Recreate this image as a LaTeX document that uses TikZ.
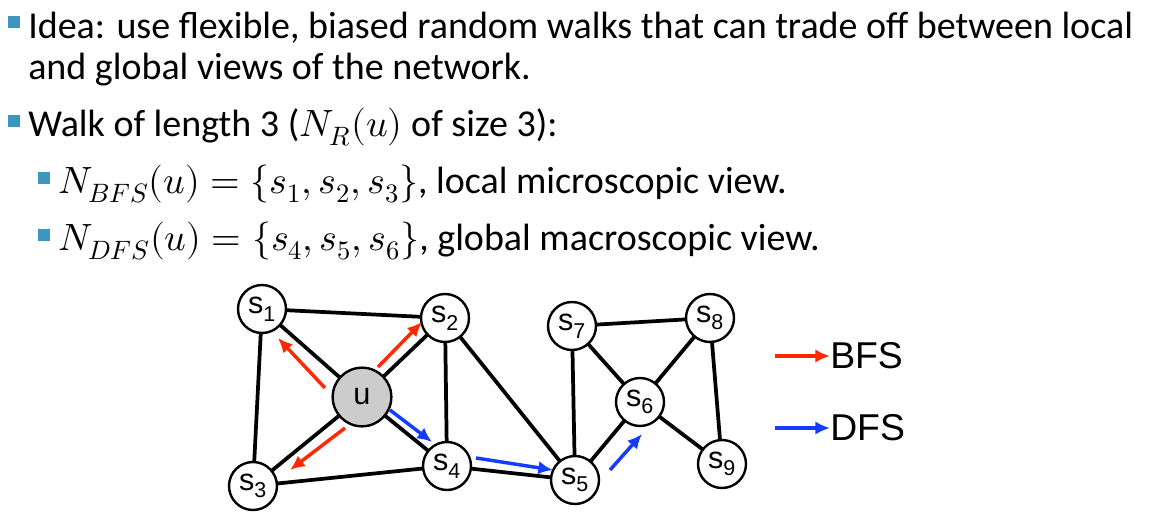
\documentclass[tikz,border=0pt]{standalone}
\usepackage{fontspec}
\setmainfont{Carlito}
\newfontfamily\arialf{Liberation Sans}
\usepackage{unicode-math}
\setmathfont{Latin Modern Math}
\usetikzlibrary{arrows.meta,backgrounds}
\definecolor{bullet}{RGB}{60,150,190}
\definecolor{bfsred}{RGB}{255,40,0}
\definecolor{dfsblue}{RGB}{20,60,255}
\tikzset{
  vtx/.style={circle,draw,line width=1.8pt,fill=white,minimum size=36pt,inner sep=0pt,font=\arialf\fontsize{23}{23}\selectfont},
  edge/.style={line width=2.8pt},
  walk/.style={line width=2.6pt,-{Latex[length=11pt,width=10pt]}},
  txt/.style={anchor=west,font=\fontsize{28.5}{30}\selectfont,inner sep=0pt},
  sq/.style={fill=bullet,minimum size=9pt,inner sep=0pt}
}
\begin{document}
\begin{tikzpicture}[x=0.75pt,y=0.75pt,yscale=-1]
\useasboundingbox (0,0) rectangle (1153,521);
% bullets
\node[sq] (b1) at (14,22) {};
\node[txt] (t1) at (28,28) {Idea: use flexible, biased random walks that can trade off between local};
\node[txt] (t1b) at (28,70) {and global views of the network.};
\node[sq] (b2) at (14,121) {};
\node[txt] (t2) at (28,127) {Walk of length 3 ($N_R(u)$ of size 3):};
\node[sq] (b3) at (44,178) {};
\node[txt] (t3) at (58,184) {$N_{BFS}(u)=\{s_1,s_2,s_3\}$, local microscopic view.};
\node[sq] (b4) at (44,235) {};
\node[txt] (t4) at (58,241) {$N_{DFS}(u)=\{s_4,s_5,s_6\}$, global macroscopic view.};
% graph
\node[vtx] (s1) at (262,309) {s\textsubscript{1}};
\node[vtx] (s2) at (445,318) {s\textsubscript{2}};
\node[vtx,fill=black!20,minimum size=44pt] (u) at (362,397) {u};
\node[vtx] (s3) at (253,486) {s\textsubscript{3}};
\node[vtx] (s4) at (447,466) {s\textsubscript{4}};
\node[vtx] (s5) at (575,480) {s\textsubscript{5}};
\node[vtx] (s7) at (572,326) {s\textsubscript{7}};
\node[vtx] (s8) at (710,318) {s\textsubscript{8}};
\node[vtx] (s6) at (640,402) {s\textsubscript{6}};
\node[vtx] (s9) at (722,464) {s\textsubscript{9}};
\begin{scope}[on background layer]
\foreach \a/\b in {s1/s2,s1/u,s1/s3,u/s2,u/s3,u/s4,s2/s4,s2/s5,s3/s4,s4/s5,s5/s7,s5/s6,s7/s6,s7/s8,s8/s6,s8/s9,s6/s9}
  \draw[edge] (\a.center) -- (\b.center);
\end{scope}
% walks
\coordinate (r1a) at (325,388); \coordinate (r1b) at (278,338);
\coordinate (r2a) at (378,367); \coordinate (r2b) at (422,322);
\coordinate (r3a) at (345,428); \coordinate (r3b) at (290,470);
\coordinate (d1a) at (390,410); \coordinate (d1b) at (432,442);
\coordinate (d2a) at (476,458); \coordinate (d2b) at (553,470);
\coordinate (d3a) at (610,470); \coordinate (d3b) at (642,434);
\draw[walk,bfsred] (r1a) -- (r1b);
\draw[walk,bfsred] (r2a) -- (r2b);
\draw[walk,bfsred] (r3a) -- (r3b);
\draw[walk,dfsblue] (d1a) -- (d1b);
\draw[walk,dfsblue] (d2a) -- (d2b);
\draw[walk,dfsblue] (d3a) -- (d3b);
% legend
\node[anchor=west,inner sep=0pt,font=\arialf\fontsize{28}{28}\selectfont] (bfs) at (830,356) {BFS};
\node[anchor=west,inner sep=0pt,font=\arialf\fontsize{28}{28}\selectfont] (dfs) at (830,428) {DFS};
\coordinate (lb) at (775,356); \coordinate (ld) at (775,428);
\draw[walk,bfsred] (lb) -- (bfs.west);
\draw[walk,dfsblue] (ld) -- (dfs.west);
\end{tikzpicture}
\end{document}
